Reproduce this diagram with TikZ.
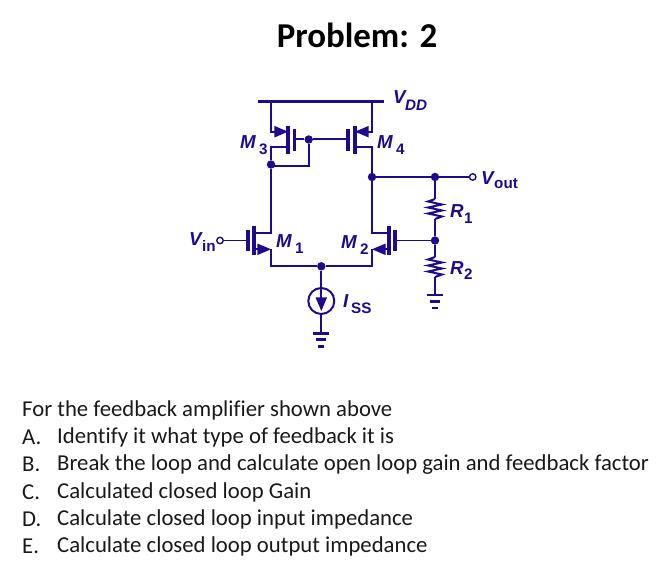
\documentclass[tikz,border=0pt]{standalone}
\usepackage{fontspec}
\setmainfont{Carlito}[Ligatures=NoCommon]
\newfontfamily\labelfont{Liberation Sans}
\usetikzlibrary{arrows}
\usetikzlibrary{calc}
\definecolor{circ}{RGB}{30,10,140}
\definecolor{bodytext}{RGB}{25,25,25}
\tikzset{
  wire/.style={circ,line width=1.7pt},
  bar/.style={circ,line width=3pt},
  rail/.style={circ,line width=2.6pt},
  dot/.style={circle,fill=circ,inner sep=0pt,minimum size=7.2pt},
  pin/.style={circle,draw=circ,fill=white,line width=1.2pt,inner sep=0pt,minimum size=5.5pt},
  lab/.style={anchor=west,circ,font=\labelfont\bfseries\itshape\fontsize{16}{16}\selectfont,inner sep=0pt},
  sub/.style={anchor=west,circ,font=\labelfont\bfseries\fontsize{13}{13}\selectfont,inner sep=0pt},
  line/.style={anchor=west,inner sep=0pt,text=bodytext,font=\fontsize{19.4}{19.4}\selectfont},
}
\newcommand{\zigres}[1]{\draw[wire,line join=miter] (#1) -- ++(-7,2.5) -- ++(14,3) -- ++(-14,3) -- ++(14,3) -- ++(-14,3) -- ++(14,3) -- ++(-7,2.5);}
\newcommand{\gndsym}[1]{\draw[wire,line width=2.4pt] ($(#1)+(-8,0)$) -- ($(#1)+(8,0)$);
\draw[wire,line width=2.4pt] ($(#1)+(-5,6.5)$) -- ($(#1)+(5,6.5)$);
\draw[wire,line width=2.4pt] ($(#1)+(-3,13)$) -- ($(#1)+(3,13)$);}
\begin{document}
\begin{tikzpicture}[line cap=butt,line join=miter,>=triangle 45,x=0.03cm,y=-0.03cm]
\useasboundingbox (0,0) rectangle (668,573);
% supply rail and named points
\coordinate (railL) at (258,101.5);
\coordinate (railR) at (384,101.5);
\coordinate (s3) at (271,101.5);
\coordinate (s4) at (372,101.5);
\node[dot] (d3) at (271,164.5) {};
\node[dot] (g34) at (308.7,139.5) {};
\node[dot] (d4) at (372,177) {};
\node[dot] (fb) at (435,177) {};
\node[dot] (mid) at (435,240.5) {};
\node[dot] (tail) at (321.3,266.3) {};
\node[pin] (vo) at (472.7,177) {};
\node[pin] (vi) at (220,240.5) {};
\draw[rail] (railL) -- (railR);
% M3
\draw[->,wire] (s3) |- (288,131.7);
\draw[bar] (288,126) -- (288,154);
\draw[bar] (294.5,129) -- (294.5,151);
\draw[wire] (288,147.3) -| (d3);
\draw[wire] (d3.center) -- (271,165.7) -| (g34);
% M4
\draw[->,wire] (s4) |- (355,131.7);
\draw[bar] (355,126) -- (355,154);
\draw[bar] (348,129) -- (348,151);
\draw[wire] (355,147.3) -| (d4);
\draw[wire] (294.5,139.5) -- (g34) -- (348,139.5);
% output and divider
\draw[wire] (d4) -- (fb) -- (vo);
\coordinate (r1a) at (435,199);
\coordinate (r1b) at (435,219);
\coordinate (r2a) at (435,257);
\coordinate (r2b) at (435,277);
\coordinate (gnd2) at (435,295);
\draw[wire] (fb) -- (r1a);
\zigres{r1a}
\draw[wire] (r1b) -- (mid) -- (r2a);
\zigres{r2a}
\draw[wire] (r2b) -- (gnd2);
\gndsym{gnd2}
% M1
\draw[wire] (d3) |- (254,232.7);
\draw[bar] (254,226.5) -- (254,255);
\draw[bar] (248,230) -- (248,251);
\draw[wire] (vi) -- (248,240.5);
\draw[->,wire] (254,249.3) -- (271,249.3);
\draw[wire] (271,249.3) |- (tail);
% M2
\draw[wire] (d4) |- (389,233.3);
\draw[bar] (389,226.5) -- (389,255);
\draw[bar] (395,230) -- (395,251);
\draw[wire] (395,240.5) -- (mid);
\draw[->,wire] (389,249.3) -- (372,249.3);
\draw[wire] (372,249.3) |- (tail);
% current source
\node[circle,draw=circ,line width=1.7pt,minimum size=0.78cm,inner sep=0pt] (iss) at (321.3,301) {};
\draw[wire] (tail) -- (iss);
\draw[->,wire] (321.3,288) -- (321.3,311);
\coordinate (gnd1) at (321.3,333.3);
\draw[wire] (iss) -- (gnd1);
\gndsym{gnd1}
% labels
\node[lab] (lvdd) at (393,97) {V};
\node[sub,font=\labelfont\bfseries\itshape\fontsize{13}{13}\selectfont] (lvdds) at (405,105) {DD};
\node[lab] (lm3) at (240,142) {M};
\node[sub] (lm3s) at (259,149) {3};
\node[lab] (lm4) at (377,142) {M};
\node[sub] (lm4s) at (396,149) {4};
\node[lab] (lvo) at (481,178) {V};
\node[sub] (lvos) at (494,184) {out};
\node[lab] (lr1) at (450,211) {R};
\node[sub] (lr1s) at (464,218) {1};
\node[lab] (lr2) at (450,268) {R};
\node[sub] (lr2s) at (464,274.5) {2};
\node[lab] (lvi) at (189,239) {V};
\node[sub] (lvis) at (202,246) {in};
\node[lab] (lm1) at (276,241) {M};
\node[sub] (lm1s) at (295,248) {1};
\node[lab] (lm2) at (341,242) {M};
\node[sub] (lm2s) at (360,249) {2};
\node[lab] (liss) at (343,301.5) {I};
\node[sub] (lisss) at (351,308) {SS};
% text
\node[inner sep=0pt,font=\bfseries\fontsize{29.8}{29.8}\selectfont,text=black] (title) at (357,35.5) {Problem: 2};
\node[line] (t0) at (22,410) {For the feedback amplifier shown above};
\node[line] (a1) at (22,437.5) {A.};
\node[line] (t1) at (57,437.5) {Identify it what type of feedback it is};
\node[line] (a2) at (22,464.5) {B.};
\node[line] (t2) at (57,464.5) {Break the loop and calculate open loop gain and feedback factor};
\node[line] (a3) at (22,492) {C.};
\node[line] (t3) at (57,492) {Calculated closed loop Gain};
\node[line] (a4) at (22,519) {D.};
\node[line] (t4) at (57,519) {Calculate closed loop input impedance};
\node[line] (a5) at (22,546) {E.};
\node[line] (t5) at (57,546) {Calculate closed loop output impedance};
\end{tikzpicture}
\end{document}
